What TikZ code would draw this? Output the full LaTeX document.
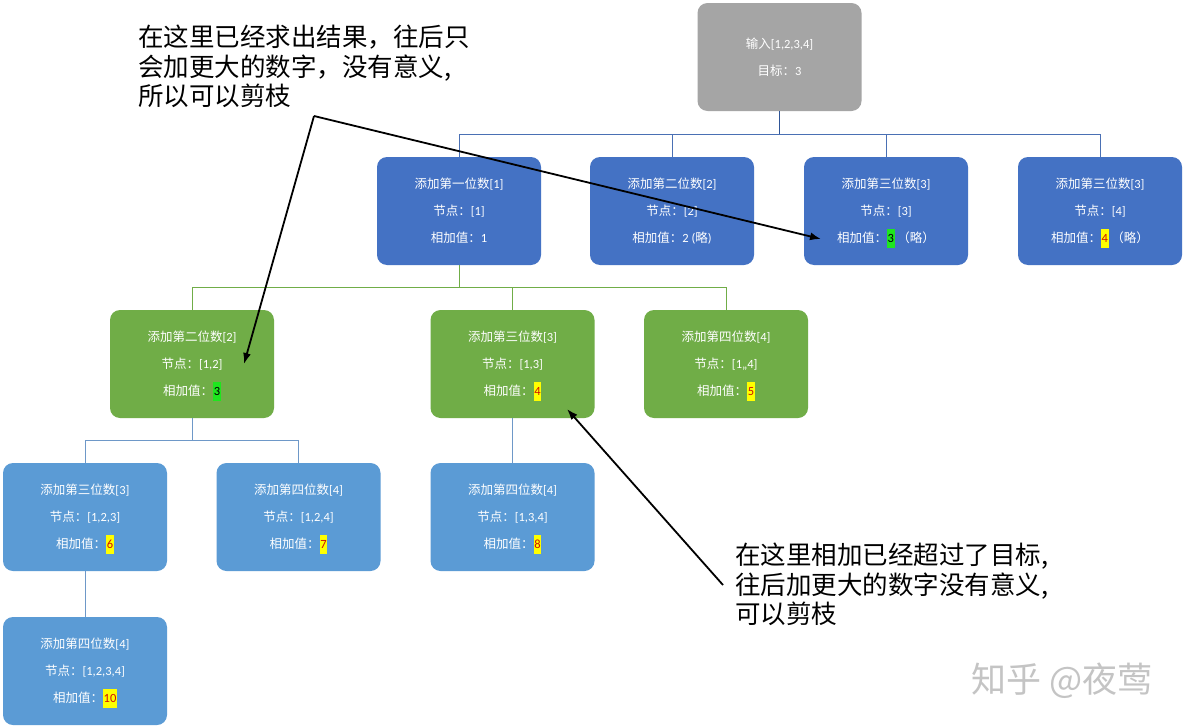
\documentclass[tikz,border=0pt]{standalone}
\usepackage{fontspec}
\setmainfont{Carlito}
\newfontfamily\cjk{Noto Sans CJK SC}
\usetikzlibrary{arrows.meta}
\definecolor{cgray}{HTML}{A5A5A5}
\definecolor{cblue}{HTML}{4472C4}
\definecolor{cgreen}{HTML}{70AD47}
\definecolor{clight}{HTML}{5B9BD5}
\definecolor{linkblue}{HTML}{4A70B4}
\definecolor{linkdark}{HTML}{2F5597}
\definecolor{linklight}{HTML}{6E98C8}
\definecolor{hlgreen}{HTML}{1EE61E}
\definecolor{hlyellow}{HTML}{FFFF00}
\definecolor{hlred}{HTML}{D01000}
\definecolor{cwm}{HTML}{C4C4C4}
\newcommand{\hlg}[1]{{\setlength{\fboxsep}{0.6pt}\smash{\colorbox{hlgreen}{\rule[-5pt]{0pt}{18pt}\textcolor{black}{#1}}}}}
\newcommand{\hly}[1]{{\setlength{\fboxsep}{0.6pt}\smash{\colorbox{hlyellow}{\rule[-5pt]{0pt}{18pt}\textcolor{hlred}{#1}}}}}
\newcommand{\bt}[3]{#1\\{\cjk 节点：}#2\\{\cjk 相加值：}#3}
\tikzset{
  box/.style={rounded corners=10pt, minimum width=164pt, minimum height=108pt, inner sep=0pt,
    text=white, align=center, font=\fontsize{12.5}{27}\selectfont},
  rootbox/.style={box, fill=cgray},
  lvone/.style={box, fill=cblue},
  lvtwo/.style={box, fill=cgreen},
  lvthree/.style={box, fill=clight},
  linkA/.style={draw=linkblue, line width=1pt},
  linkB/.style={draw=cgreen, line width=1pt},
  linkC/.style={draw=linklight, line width=1pt},
  ann/.style={font=\cjk\fontsize{25.5}{29.5}\selectfont, align=left, inner sep=0pt, anchor=north west},
  pointer/.style={draw=black, line width=1.8pt, -{Latex[length=11pt,width=8pt]}},
  wm/.style={font=\cjk\fontsize{35}{40}\selectfont, text=cwm, inner sep=0pt}
}
\begin{document}
\begin{tikzpicture}[x=1pt,y=-1pt]
\useasboundingbox[fill=white] (0,0) rectangle (1184,728);

% root
\node[rootbox] (root) at (779.5,57) {{\cjk 输入}[1,2,3,4]\\{\cjk 目标：}3};

% level 1
\node[lvone] (b1) at (459,211) {\bt{{\cjk 添加第一位数}[1]}{[1]}{1}};
\node[lvone] (b2) at (672,211) {\bt{{\cjk 添加第二位数}[2]}{[2]}{2 ({\cjk 略})}};
\node[lvone] (b3) at (886,211) {\bt{{\cjk 添加第三位数}[3]}{[3]}{\hlg{3}\ {\cjk （略）}}};
\node[lvone] (b4) at (1100,211) {\bt{{\cjk 添加第三位数}[3]}{[4]}{\hly{4}\ {\cjk （略）}}};

% level 2
\node[lvtwo] (g1) at (192,364) {\bt{{\cjk 添加第二位数}[2]}{[1,2]}{\hlg{3}}};
\node[lvtwo] (g2) at (512.5,364) {\bt{{\cjk 添加第三位数}[3]}{[1,3]}{\hly{4}}};
\node[lvtwo] (g3) at (726,364) {\bt{{\cjk 添加第四位数}[4]}{[1,,4]}{\hly{5}}};

% level 3
\node[lvthree] (l1) at (85,517) {\bt{{\cjk 添加第三位数}[3]}{[1,2,3]}{\hly{6}}};
\node[lvthree] (l2) at (298.5,517) {\bt{{\cjk 添加第四位数}[4]}{[1,2,4]}{\hly{7}}};
\node[lvthree] (l3) at (512.5,517) {\bt{{\cjk 添加第四位数}[4]}{[1,3,4]}{\hly{8}}};

% level 4
\node[lvthree] (l4) at (85,671) {\bt{{\cjk 添加第四位数}[4]}{[1,2,3,4]}{\hly{10}}};

% connectors root -> level 1
\draw[draw=linkdark, line width=1.5pt] (root.south) -- ++(0,23) coordinate (j0);
\draw[linkA] (j0) -| (b1.north);
\draw[linkA] (j0) -| (b2.north);
\draw[linkA] (j0) -| (b3.north);
\draw[linkA] (j0) -| (b4.north);

% b1 -> level 2
\draw[linkB] (b1.south) -- ++(0,22.5) coordinate (j1);
\draw[linkB] (j1) -| (g1.north);
\draw[linkB] (j1) -| (g2.north);
\draw[linkB] (j1) -| (g3.north);

% g1 -> level 3
\draw[linkC] (g1.south) -- ++(0,22.5) coordinate (j2);
\draw[linkC] (j2) -| (l1.north);
\draw[linkC] (j2) -| (l2.north);
\draw[linkC] (g2.south) -- (l3.north);

% l1 -> l4
\draw[linkC] (l1.south) -- (l4.north);

% annotations
\node[ann] (ann1) at (138,25) {在这里已经求出结果，往后只\\会加更大的数字，没有意义,\\所以可以剪枝};
\node[ann] (ann2) at (735,543) {在这里相加已经超过了目标,\\往后加更大的数字没有意义,\\可以剪枝};

\coordinate (p1) at (314,116);
\coordinate (t1) at (244,364);
\coordinate (t2) at (821,239);
\coordinate (p2) at (723,585);
\coordinate (t3) at (567,409);
\draw[pointer] (p1) -- (t1);
\draw[pointer] (p1) -- (t2);
\draw[pointer] (p2) -- (t3);

% watermark
\node[wm] (wmark) at (1062,681) {知乎 @夜莺};
\end{tikzpicture}
\end{document}
